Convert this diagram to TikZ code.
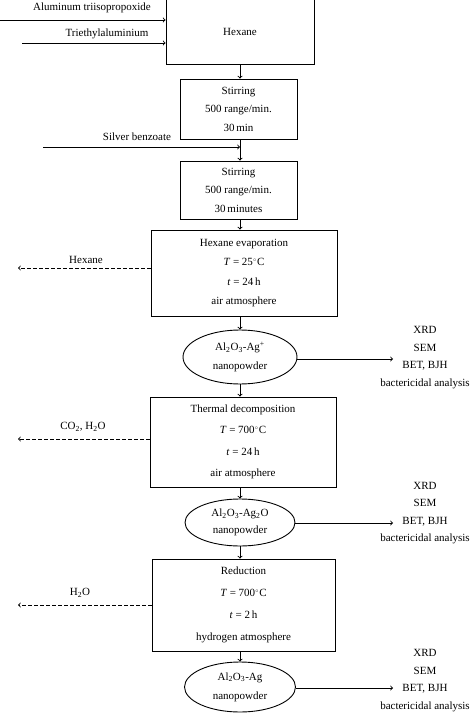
\documentclass[tikz,border=0pt]{standalone}
\usepackage{fontspec}
\setmainfont{Liberation Serif}
\usetikzlibrary{shapes.geometric}
\newcommand{\degsym}{\textsuperscript{$\scriptscriptstyle\circ$}}
\begin{document}
\begin{tikzpicture}[x=1pt,y=-1pt,
  line width=0.9pt,
  every node/.style={font=\fontsize{11}{19}\selectfont},
  procbox/.style={draw, rectangle, inner sep=0pt, align=center},
  prodell/.style={draw, ellipse, inner sep=0pt, align=center, font=\fontsize{11}{19}\selectfont},
  lbl/.style={inner sep=0pt, align=center},
  flow/.style={->},
  waste/.style={->, dashed, dash pattern=on 3.5pt off 2.5pt}]
\useasboundingbox (0,0) rectangle (474,714);
% boxes
\node[procbox, minimum width=148, minimum height=66] (b1) at (240,31.5) {Hexane};
\node[procbox, minimum width=117, minimum height=60, font=\fontsize{11}{18.5}\selectfont] (b2) at (238.5,109) {Stirring\\500 range/min.\\30\,min};
\node[procbox, minimum width=117, minimum height=58, font=\fontsize{11}{18.5}\selectfont] (b3) at (238.5,190) {Stirring\\500 range/min.\\30\,minutes};
\node[procbox, minimum width=186, minimum height=86, font=\fontsize{11}{19.5}\selectfont] (b4) at (244,273) {Hexane evaporation\\\textit{T} = 25\degsym C\\\textit{t} = 24\,h\\air atmosphere};
\node[procbox, minimum width=186, minimum height=90, font=\fontsize{11}{21.5}\selectfont] (b5) at (243,442) {Thermal decomposition\\\textit{T} = 700\degsym C\\\textit{t} = 24\,h\\air atmosphere};
\node[procbox, minimum width=183, minimum height=92, font=\fontsize{11}{22}\selectfont] (b6) at (243.5,605) {Reduction\\\textit{T} = 700\degsym C\\\textit{t} = 2\,h\\hydrogen atmosphere};
% ellipses
\node[prodell, minimum width=114, minimum height=54] (e1) at (240,357) {Al\textsubscript{2}O\textsubscript{3}-Ag\textsuperscript{+}\\nanopowder};
\node[prodell, minimum width=110, minimum height=47, font=\fontsize{11}{17}\selectfont] (e2) at (240,522.5) {Al\textsubscript{2}O\textsubscript{3}-Ag\textsubscript{2}O\\nanopowder};
\node[prodell, minimum width=111, minimum height=50] (e3) at (240,687) {Al\textsubscript{2}O\textsubscript{3}-Ag\\nanopowder};
% analyses
\node[lbl, font=\fontsize{11}{17.5}\selectfont] (r1) at (425,357.5) {XRD\\SEM\\BET, BJH\\bactericidal analysis};
\node[lbl, font=\fontsize{11}{17.5}\selectfont] (r2) at (425,513) {XRD\\SEM\\BET, BJH\\bactericidal analysis};
\node[lbl, font=\fontsize{11}{17.5}\selectfont] (r3) at (425,680.5) {XRD\\SEM\\BET, BJH\\bactericidal analysis};
% input labels
\node[lbl] (l1) at (92,8) {Aluminum triisopropoxide};
\node[lbl] (l2) at (107,34) {Triethylaluminium};
\node[lbl] (l3) at (137,137) {Silver benzoate};
\node[lbl] (l4) at (86,260) {Hexane};
\node[lbl] (l5) at (83,427) {CO\textsubscript{2}, H\textsubscript{2}O};
\node[lbl] (l6) at (80,593) {H\textsubscript{2}O};
% coordinates
\coordinate (a1) at (0,20);
\coordinate (a2) at (22,43);
\coordinate (a3) at (43,147);
\coordinate (j3) at (240,147);
\coordinate (w1) at (18,268);
\coordinate (w2) at (18,439);
\coordinate (w3) at (18,605);
\coordinate (o1) at (393,359);
\coordinate (o2) at (393,523);
\coordinate (o3) at (393,688);
% connectors
\draw[flow] (a1) -- (a1 -| b1.west);
\draw[flow] (a2) -- (a2 -| b1.west);
\draw[flow] (b1.south -| j3) -- (b2.north -| j3);
\draw[flow] (a3) -- (j3);
\draw[flow] (b2.south -| j3) -- (b3.north -| j3);
\draw[flow] (b3.south -| j3) -- (b4.north -| j3);
\draw[flow] (b4.south -| j3) -- (e1.north);
\draw[flow] (e1.south) -- (b5.north -| e1.south);
\draw[flow] (b5.south -| e2.north) -- (e2.north);
\draw[flow] (e2.south) -- (b6.north -| e2.south);
\draw[flow] (b6.south -| e3.north) -- (e3.north);
\draw[waste] (w1 -| b4.west) -- (w1);
\draw[waste] (w2 -| b5.west) -- (w2);
\draw[waste] (w3 -| b6.west) -- (w3);
\draw[flow] (e1.east |- o1) -- (o1);
\draw[flow] (e2.east |- o2) -- (o2);
\draw[flow] (e3.east |- o3) -- (o3);
\end{tikzpicture}
\end{document}
